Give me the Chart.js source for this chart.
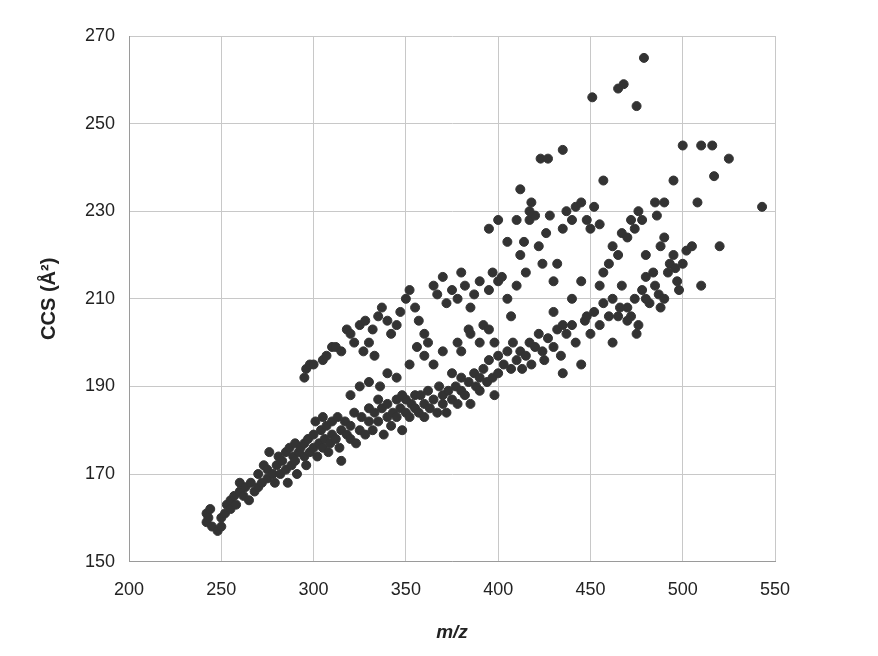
<!DOCTYPE html>
<html>
<head>
<meta charset="utf-8">
<script src="https://cdn.jsdelivr.net/npm/chart.js"></script>
<style>
  html, body { margin: 0; background: #fff; }
  #wrap { width: 878px; height: 656px; }
</style>
</head>
<body>
<div id="wrap"><canvas id="c" width="878" height="656"></canvas></div>
<script>
// m/z values and CCS values
const mz = [
  242,242,243,244,245,248,250,250,252,253,255,255,257,258,260,260,262,263,265,266,268,270,270,272,273,275,275,276,278,279,
  280,281,282,283,285,285,286,287,288,289,290,290,291,292,293,295,295,296,297,298,300,300,301,302,303,304,305,305,306,307,
  308,309,310,310,312,313,314,315,315,317,318,320,320,322,323,325,326,328,330,330,332,333,335,335,337,338,340,340,342,343,
  345,345,347,348,350,350,352,353,355,355,357,358,360,360,362,363,365,367,368,370,370,372,373,375,377,378,380,380,382,384,
  385,387,388,390,390,392,394,395,397,398,400,400,403,405,407,408,410,412,413,415,417,418,420,422,424,425,427,430,432,434,
  435,437,440,442,445,447,450,452,455,457,460,462,465,467,470,472,474,476,478,480,482,485,487,488,490,492,495,497,500,502,498,
  295,296,298,300,305,307,310,312,315,318,320,322,325,327,328,330,332,333,335,337,340,342,345,347,350,352,355,357,360,362,
  365,367,370,372,375,378,380,382,385,387,390,392,395,397,400,402,405,407,410,412,414,415,417,418,420,422,424,426,428,430,
  432,435,437,440,442,445,448,450,452,455,457,460,462,465,467,470,472,474,476,478,480,484,486,488,490,493,496,505,462,466,
  470,475,480,336,340,345,348,365,370,375,380,385,390,395,398,352,356,360,320,325,330,405,410,400,395,384,378,412,417,440,
  445,448,455,435,430,
  451,465,468,475,479,500,510,516,525,543,520,510,517,508,435,423,427,457,495,490,485
];
const ccs = [
  159,161,160,162,158,157,158,160,161,163,162,164,165,163,166,168,165,167,164,168,166,167,170,168,172,169,171,175,170,168,
  172,174,170,173,171,175,168,176,172,174,177,173,170,175,176,174,177,172,178,175,176,179,182,174,177,180,176,183,178,181,
  175,177,179,182,178,183,176,180,173,182,179,181,178,184,177,180,183,179,182,185,180,184,182,187,185,179,183,186,181,184,
  187,183,185,180,184,187,183,186,188,185,184,188,186,183,189,185,187,184,190,188,186,184,189,187,190,186,189,192,188,191,
  186,193,190,192,189,194,191,196,192,188,193,197,195,198,194,200,196,198,194,197,200,195,199,202,198,196,201,199,203,197,
  193,202,204,200,195,205,202,207,204,209,206,210,206,213,208,206,210,204,212,215,209,213,211,208,210,216,220,214,218,221,212,
  192,194,195,195,196,197,199,199,198,203,202,200,204,198,205,200,203,197,206,208,205,202,204,207,210,212,208,205,202,200,
  213,211,215,209,212,210,216,213,208,211,214,204,212,216,214,215,210,206,213,220,223,216,228,232,229,222,218,225,229,214,
  218,226,230,228,231,232,228,226,231,227,216,218,222,220,225,224,228,226,230,228,220,216,229,222,224,218,217,222,200,208,
  205,202,210,190,193,192,188,195,198,193,198,202,200,203,200,195,199,197,188,190,191,223,228,228,226,203,200,235,230,210,
  214,206,213,204,207,
  256,258,259,254,265,245,245,245,242,231,222,213,238,232,244,242,242,237,237,232,232
];
const xTicks = [200, 250, 300, 350, 400, 450, 500, 550];
const yTicks = [150, 170, 190, 210, 230, 250, 270];

const points = mz.map((x, i) => ({ x: x, y: ccs[i] }));

new Chart(document.getElementById('c').getContext('2d'), {
  type: 'scatter',
  data: {
    datasets: [{
      data: points,
      backgroundColor: '#333333',
      borderColor: '#333333',
      pointRadius: 4.5,
      pointHoverRadius: 4.5
    }]
  },
  options: {
    responsive: false,
    animation: false,
    layout: { padding: { left: 33, right: 103, top: 36, bottom: 8 } },
    plugins: { legend: { display: false }, tooltip: { enabled: false } },
    scales: {
      x: {
        type: 'linear', min: 200, max: 550,
        afterBuildTicks: s => { s.ticks = xTicks.map(v => ({ value: v })); },
        grid: { color: '#c8c8c8', drawTicks: false },
        border: { color: '#9a9a9a' },
        ticks: { color: '#222', font: { family: 'Liberation Sans', size: 18 }, padding: 18 },
        title: { display: true, text: 'm/z', color: '#222', padding: { top: 2 },
                 font: { family: 'Liberation Sans', size: 19, weight: 'bold', style: 'italic' } }
      },
      y: {
        type: 'linear', min: 150, max: 270,
        afterBuildTicks: s => { s.ticks = yTicks.map(v => ({ value: v })); },
        grid: { color: '#c8c8c8', drawTicks: false },
        border: { color: '#9a9a9a' },
        ticks: { color: '#222', font: { family: 'Liberation Sans', size: 18 }, padding: 14 },
        title: { display: true, text: 'CCS (Å²)', color: '#222', padding: { bottom: 10 },
                 font: { family: 'Liberation Sans', size: 20, weight: 'bold' } }
      }
    }
  }
});
</script>
</body>
</html>
